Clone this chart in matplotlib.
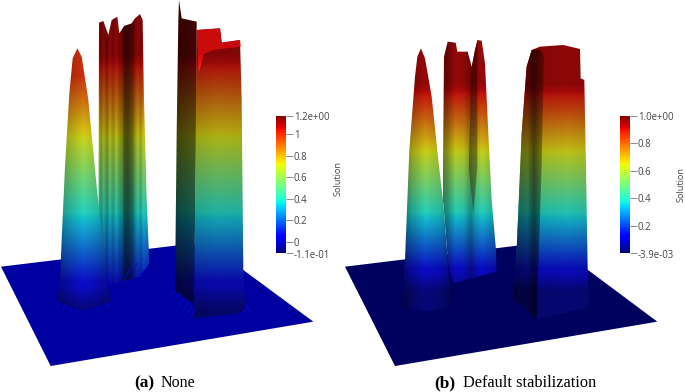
import matplotlib
matplotlib.use('Agg')
import matplotlib.pyplot as plt
from matplotlib.patches import Polygon
import numpy as np

ground_a_x = [3, 616, 940, 152]
ground_a_y = [800, 726, 965, 1098]
peak_a_x = [172, 180, 185, 195, 208, 218, 232, 245, 265, 290, 310, 325, 332, 250]
peak_a_y = [905, 840, 720, 500, 280, 175, 145, 170, 300, 560, 740, 860, 905, 932]
peak_a_sx = [172, 200, 250, 290, 332]
peak_a_sv = [0.55, 0.7, 0.88, 0.78, 0.6]
group_a_x = [295, 297, 310, 325, 335, 352, 358, 372, 395, 405, 420, 428, 432, 440, 448, 420, 330, 298]
group_a_y = [800, 68, 63, 105, 60, 50, 100, 78, 70, 55, 42, 60, 300, 600, 790, 830, 855, 800]
group_a_sx = [295, 303, 312, 322, 330, 340, 350, 358, 368, 374, 385, 400, 408, 415, 424, 432, 448]
group_a_sv = [0.8, 0.58, 0.74, 0.55, 0.78, 0.62, 0.8, 0.64, 0.55, 0.34, 0.32, 0.46, 0.68, 0.8, 0.66, 0.85, 0.72]
bar_left_a_x = [535, 537, 545, 590, 590, 582, 525, 530]
bar_left_a_y = [60, 0, 55, 65, 300, 912, 872, 400]
bar_left_a_sx = [525, 590]
bar_left_a_sv = [0.28, 0.38]
bar_right_a_x = [590, 660, 665, 720, 725, 730, 736, 720, 582]
bar_right_a_y = [90, 85, 128, 120, 300, 810, 915, 940, 955]
bar_right_a_sx = [582, 650, 736]
bar_right_a_sv = [0.68, 0.74, 0.72]
cap_a_x = [590, 660, 665, 720, 722, 640, 612, 596]
cap_a_y = [90, 85, 128, 120, 140, 150, 162, 220]
cap_a_sx = [590, 722]
cap_a_sv = [1.15, 1.15]

# rough mesh spikes around the feet of the columns in panel a
spike_a_x0 = [178, 195, 214, 232, 262, 290, 318, 512, 525, 538, 550, 562, 574, 738, 745, 400, 420, 372]
spike_a_y0 = [905, 915, 925, 930, 932, 925, 910, 885, 900, 915, 930, 940, 950, 912, 925, 810, 830, 845]
spike_a_x1 = [172, 186, 207, 226, 258, 296, 330, 525, 540, 552, 565, 576, 586, 752, 728, 412, 432, 392]
spike_a_y1 = [925, 935, 936, 938, 940, 936, 920, 870, 880, 895, 905, 915, 925, 935, 938, 790, 812, 800]

ground_b_x = [15, 630, 952, 165]
ground_b_y = [800, 725, 965, 1098]
peak_b_x = [185, 195, 208, 225, 232, 243, 255, 275, 295, 310, 325, 335, 260]
peak_b_y = [920, 780, 450, 230, 170, 145, 175, 290, 480, 610, 800, 920, 935]
peak_b_sx = [185, 215, 255, 300, 335]
peak_b_sv = [0.48, 0.68, 0.86, 0.76, 0.55]
group_b_x = [308, 312, 323, 347, 352, 383, 395, 405, 412, 425, 435, 445, 455, 468, 470, 340, 325, 310]
group_b_y = [600, 170, 125, 128, 155, 155, 200, 150, 120, 122, 190, 400, 600, 750, 815, 850, 800, 610]
group_b_sx = [308, 322, 345, 370, 392, 405, 425, 470]
group_b_sv = [0.52, 0.6, 0.84, 0.8, 0.58, 0.75, 0.86, 0.68]
fold_b_x = [395, 405, 412, 412, 400, 386]
fold_b_y = [205, 150, 125, 500, 640, 500]
fold_b_sx = [386, 412]
fold_b_sv = [0.4, 0.52]
bar_b_x = [518, 530, 545, 560, 575, 600, 670, 720, 722, 733, 738, 743, 748, 590]
bar_b_y = [895, 750, 400, 200, 150, 140, 135, 147, 235, 240, 500, 805, 920, 960]
bar_b_sx = [518, 590, 612, 680, 748]
bar_b_sv = [0.75, 0.75, 0.76, 0.8, 0.75]
bar_left_b_x = [518, 530, 545, 560, 575, 600, 612, 605, 590]
bar_left_b_y = [895, 750, 400, 200, 150, 148, 165, 500, 960]
bar_left_b_sx = [518, 560, 580, 612]
bar_left_b_sv = [0.4, 0.48, 0.3, 0.58]

# colorbars
ticks_a = [1.0, 0.8, 0.6, 0.4, 0.2, 0.0]
ticks_a_txt = ['1', '0.8', '0.6', '0.4', '0.2', '0']
range_a = [-0.11, 1.17]
limits_a_txt = ['-1.1e-01', '1.2e+00']
ticks_b = [0.8, 0.6, 0.4, 0.2]
ticks_b_txt = ['0.8', '0.6', '0.4', '0.2']
range_b = [-0.0039, 1.0]
limits_b_txt = ['-3.9e-03', '1.0e+00']

W, H = 685, 392
TXT = '#444444'
fig = plt.figure(figsize=(W / 100, H / 100), dpi=100)
jet = plt.get_cmap('jet')


def panel(left, width):
    ax = fig.add_axes([left / W, 0, width / W, 1])
    ax.axis('off')
    return ax


def facet(ax, xp, yp, sx, sv, n_mid, slope, top=0.94):
    # jet gradient over height, darkened across x, clipped to the outline
    x0, x1, y0, y1 = min(xp), max(xp), min(yp), max(yp)
    yy = np.arange(y0, y1 + 1)
    xx = np.arange(x0, x1 + 1)
    norm = np.clip(0.65 + slope * (n_mid - yy), 0.03, top)
    rgb = jet(norm)[:, :3]
    # the render is lit, so colours come out duller than the bar
    lum = rgb.mean(axis=1, keepdims=True)
    rgb = (0.85 * rgb + 0.15 * lum)[:, None, :]
    shade = np.interp(xx, sx, sv)[None, :, None]
    im = ax.imshow(np.clip(rgb * shade, 0, 1), extent=[x0, x1, y1, y0], aspect='auto',
                   interpolation='bilinear', zorder=2)
    im.set_clip_path(Polygon(np.c_[xp, yp], transform=ax.transData))


def colorbar(left, vrange, ticks, tick_txt, limits):
    cax = fig.add_axes([left / W, 1 - 253.5 / H, 9.5 / W, 137.5 / H])
    grad = np.linspace(0, 1, 256)[:, None]
    cax.imshow(grad, cmap='jet', origin='lower', aspect='auto',
               extent=[0, 1, vrange[0], vrange[1]])
    cax.set_xticks([])
    cax.yaxis.tick_right()
    cax.set_yticks(list(vrange) + ticks)
    cax.set_yticklabels(list(limits) + tick_txt, fontsize=6.9, color=TXT)
    cax.tick_params(axis='y', length=5, width=0.6, color='#777777', pad=1)
    for s in cax.spines.values():
        s.set_visible(False)
    return cax


plt.rcParams['font.family'] = ['Open Sans', 'DejaVu Sans']

# panel a
ax_a = panel(0, 340)
ax_a.fill(ground_a_x, ground_a_y, color='#0000a0', lw=0, zorder=1)
facet(ax_a, group_a_x, group_a_y, group_a_sx, group_a_sv, 405, 0.00119)
facet(ax_a, peak_a_x, peak_a_y, peak_a_sx, peak_a_sv, 405, 0.00119, top=0.86)
facet(ax_a, bar_left_a_x, bar_left_a_y, bar_left_a_sx, bar_left_a_sv, 405, 0.00119)
facet(ax_a, bar_right_a_x, bar_right_a_y, bar_right_a_sx, bar_right_a_sv, 405, 0.00119)
facet(ax_a, cap_a_x, cap_a_y, cap_a_sx, cap_a_sv, 405, 0.00119)
for x0, y0, x1, y1 in zip(spike_a_x0, spike_a_y0, spike_a_x1, spike_a_y1):
    ax_a.plot([x0, x1], [y0, y1], color='#0010c0', lw=0.8, alpha=0.8, zorder=3)
ax_a.set_xlim(0, 1020)
ax_a.set_ylim(H * 3, 0)

# panel b
ax_b = panel(340, 345)
ax_b.fill(ground_b_x, ground_b_y, color='#00005f', lw=0, zorder=1)
for xp, yp, sx, sv in [(group_b_x, group_b_y, group_b_sx, group_b_sv),
                       (fold_b_x, fold_b_y, fold_b_sx, fold_b_sv),
                       (peak_b_x, peak_b_y, peak_b_sx, peak_b_sv),
                       (bar_b_x, bar_b_y, bar_b_sx, bar_b_sv),
                       (bar_left_b_x, bar_left_b_y, bar_left_b_sx, bar_left_b_sv)]:
    facet(ax_b, xp, yp, sx, sv, 450, 0.00147)
ax_b.set_xlim(0, 1035)
ax_b.set_ylim(H * 3, 0)

colorbar(276, range_a, ticks_a, ticks_a_txt, limits_a_txt)
colorbar(620, range_b, ticks_b, ticks_b_txt, limits_b_txt)

fig.text(338 / W, 1 - 179 / H, 'Solution', rotation=90, ha='center', va='center', fontsize=6.6, color=TXT)
fig.text(681 / W, 1 - 185 / H, 'Solution', rotation=90, ha='center', va='center', fontsize=6.6, color=TXT)

# captions
serif = ['Liberation Serif', 'DejaVu Serif']
fig.text(134 / W, 1 - 387 / H, '(a)', family=serif, weight='bold', fontsize=12.5, color='black')
fig.text(161 / W, 1 - 387 / H, 'None', family=serif, fontsize=11.5, color='black')
fig.text(434 / W, 1 - 387 / H, '(b)', family=serif, weight='bold', fontsize=12.5, color='black')
fig.text(463 / W, 1 - 387 / H, 'Default stabilization', family=serif, fontsize=11.8, color='black')

fig.savefig('out.png', dpi=100)
plt.close()
